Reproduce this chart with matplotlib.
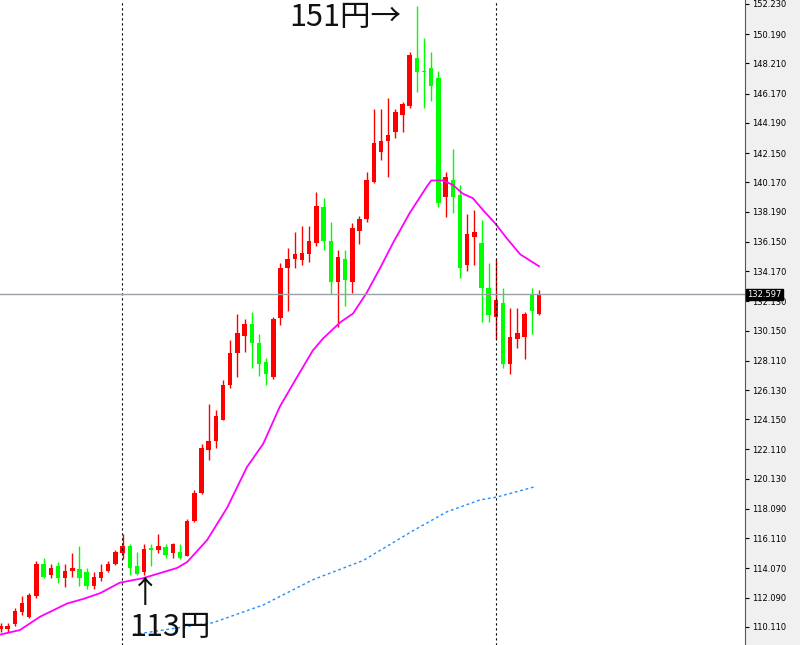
import matplotlib
matplotlib.use("Agg")
import matplotlib.pyplot as plt
import numpy as np

opens  = [110.0,110.0,110.3,111.1,110.8,112.2,114.4,113.6,114.2,113.4,113.9,114.0,113.8,112.9,113.4,113.9,114.4,115.1,115.6,114.2,
          113.8,115.4,115.3,115.5,115.1,115.2,114.9,117.3,119.2,122.1,122.7,124.1,126.5,128.6,129.8,130.6,129.3,128.0,127.0,131.0,
          134.4,135.0,134.9,135.3,136.1,138.5,136.2,133.4,135.0,133.4,136.9,137.7,140.2,142.2,143.0,143.6,144.7,145.3,148.6,147.7,
          147.9,147.2,139.2,140.3,139.3,134.6,136.5,136.1,133.0,131.1,132.0,127.9,129.6,129.7,132.6,131.3]
highs  = [110.4,110.4,111.4,112.2,112.4,114.6,114.8,114.4,114.5,114.4,115.1,115.6,114.1,113.8,114.4,114.6,115.3,116.4,115.7,115.2,
          115.7,115.7,116.4,115.7,115.8,115.7,117.4,119.4,122.5,125.2,124.8,126.8,129.5,131.3,130.9,131.4,129.9,128.3,131.1,134.7,
          135.7,136.8,137.2,137.2,139.5,139.1,137.5,135.6,135.6,137.4,137.9,140.9,145.1,145.1,145.9,145.1,145.6,149.0,152.1,149.9,
          149.0,147.7,140.9,142.4,140.0,138.0,138.3,137.6,134.7,135.0,133.0,131.7,131.7,131.4,133.0,132.9]
lows   = [109.8,109.7,110.2,110.9,110.7,112.1,113.4,113.4,113.1,112.8,113.5,112.9,112.7,112.7,113.2,113.8,114.3,114.7,113.6,113.6,
          113.6,114.2,115.1,114.8,114.8,114.7,114.9,117.2,119.1,121.4,122.2,124.1,126.3,127.0,128.7,127.6,127.1,126.5,126.9,130.5,
          131.5,134.4,134.6,134.8,135.9,135.6,132.6,130.4,131.8,132.7,136.0,137.5,140.1,141.7,140.5,143.2,143.6,145.2,146.3,145.2,
          145.7,138.5,137.8,138.1,133.7,134.2,134.6,130.7,130.7,129.6,127.6,127.2,129.0,128.2,129.9,131.2]
closes = [110.2,110.2,111.2,111.7,112.3,114.4,113.5,114.1,113.4,113.9,114.1,113.4,112.9,113.5,113.8,114.4,115.2,115.6,114.1,113.7,
          115.4,115.3,115.6,115.0,115.7,114.8,117.3,119.2,122.2,122.7,124.4,126.5,128.6,130.0,130.6,129.3,127.9,127.2,130.9,134.4,
          135.0,135.3,135.4,136.2,138.6,136.2,133.4,135.1,133.6,137.1,137.7,140.3,142.8,143.0,143.4,144.9,145.5,148.8,147.6,147.6,
          146.7,138.8,140.5,139.2,134.4,136.7,136.8,133.0,131.2,132.2,127.9,129.7,130.0,131.3,131.5,132.6]

ma_idx = [0, 2.7, 5.5, 9.3, 11.5, 13.9, 16.6, 19.8, 24.6, 26.0, 28.8, 31.6, 34.3, 36.6, 38.9, 41.3, 43.5, 44.9, 47.3,
          49.1, 51.0, 52.9, 54.7, 57.0, 59.4, 60.0, 61.6, 63.0, 64.4, 65.8, 67.2, 68.9, 70.5, 72.4, 75.0]
ma_val = [109.6, 109.9, 110.8, 111.7, 112.0, 112.4, 113.1, 113.4, 114.1, 114.5, 116.0, 118.2, 120.9, 122.5, 125.0, 127.0,
          128.8, 129.6, 130.7, 131.3, 132.7, 134.4, 136.1, 138.1, 139.9, 140.3, 140.3, 140.0, 139.4, 139.1, 138.3, 137.4,
          136.4, 135.3, 134.5]

ma2_idx = [18.5, 29.6, 36.6, 43.5, 50.5, 57.4, 62.2, 66.8, 69.2, 74.5]
ma2_val = [109.6, 110.4, 111.6, 113.3, 114.6, 116.6, 117.9, 118.7, 118.9, 119.6]

yticks = [152.230,150.190,148.210,146.170,144.190,142.150,140.170,138.190,136.150,134.170,132.130,
          130.150,128.110,126.130,124.150,122.110,120.130,118.090,116.110,114.070,112.090,110.110]
current = 132.597

fig = plt.figure(figsize=(8, 6.45), dpi=100)
fig.patch.set_facecolor("#f0f0f0")
ax = fig.add_axes([0, 0, 745/800, 1])
ax.set_facecolor("white")

x = np.arange(len(opens))
w = 0.62
for i in x:
    o, h, l, c = opens[i], highs[i], lows[i], closes[i]
    col = "#ff0000" if c >= o else "#00ff00"
    ax.vlines(i, l, h, color=col, lw=1)
    ax.bar(i, max(abs(c - o), 0.12), width=w, bottom=min(o, c), color=col, edgecolor=col, lw=0)

ax.plot(ma_idx, ma_val, color="#ff00ff", lw=1.3)
ax.plot(ma2_idx, ma2_val, color="#1e90ff", lw=1, ls=(0, (2, 2)))

for xv in [16.9, 69.0]:
    ax.axvline(xv, color="black", lw=0.8, ls=(0, (2, 2.5)))
ax.axhline(current, color="#9aa0a8", lw=1)

ax.set_xlim(-0.07, 103.7)
ax.set_ylim(108.89, 152.50)
ax.set_xticks([])
ax.yaxis.tick_right()
ax.set_yticks(yticks)
ax.set_yticklabels([f"{t:.3f}" for t in yticks], fontsize=6, family="DejaVu Sans")
ax.tick_params(axis="y", length=3, pad=2, width=0.8)
for s in ["top", "left", "bottom"]:
    ax.spines[s].set_visible(False)
ax.spines["right"].set_color("#555555")

ax.text(1.003, (current - 108.89) / (152.50 - 108.89), f"{current:.3f}", transform=ax.transAxes,
        fontsize=6, color="white", va="center", ha="left",
        bbox=dict(boxstyle="square,pad=0.15", fc="black", ec="black"))

fam = ["Noto Sans CJK JP", "DejaVu Sans"]
ax.text(40.2, 151.3, "151円→", fontsize=22, family=fam, ha="left", va="center", color="#111111")
ax.text(18.0, 110.1, "113円", fontsize=22, family=fam, ha="left", va="center", color="#111111")
ax.text(20.1, 112.3, "↑", fontsize=22, family=fam, ha="center", va="center", color="#111111")

fig.savefig("out.png", dpi=100, facecolor=fig.get_facecolor())
